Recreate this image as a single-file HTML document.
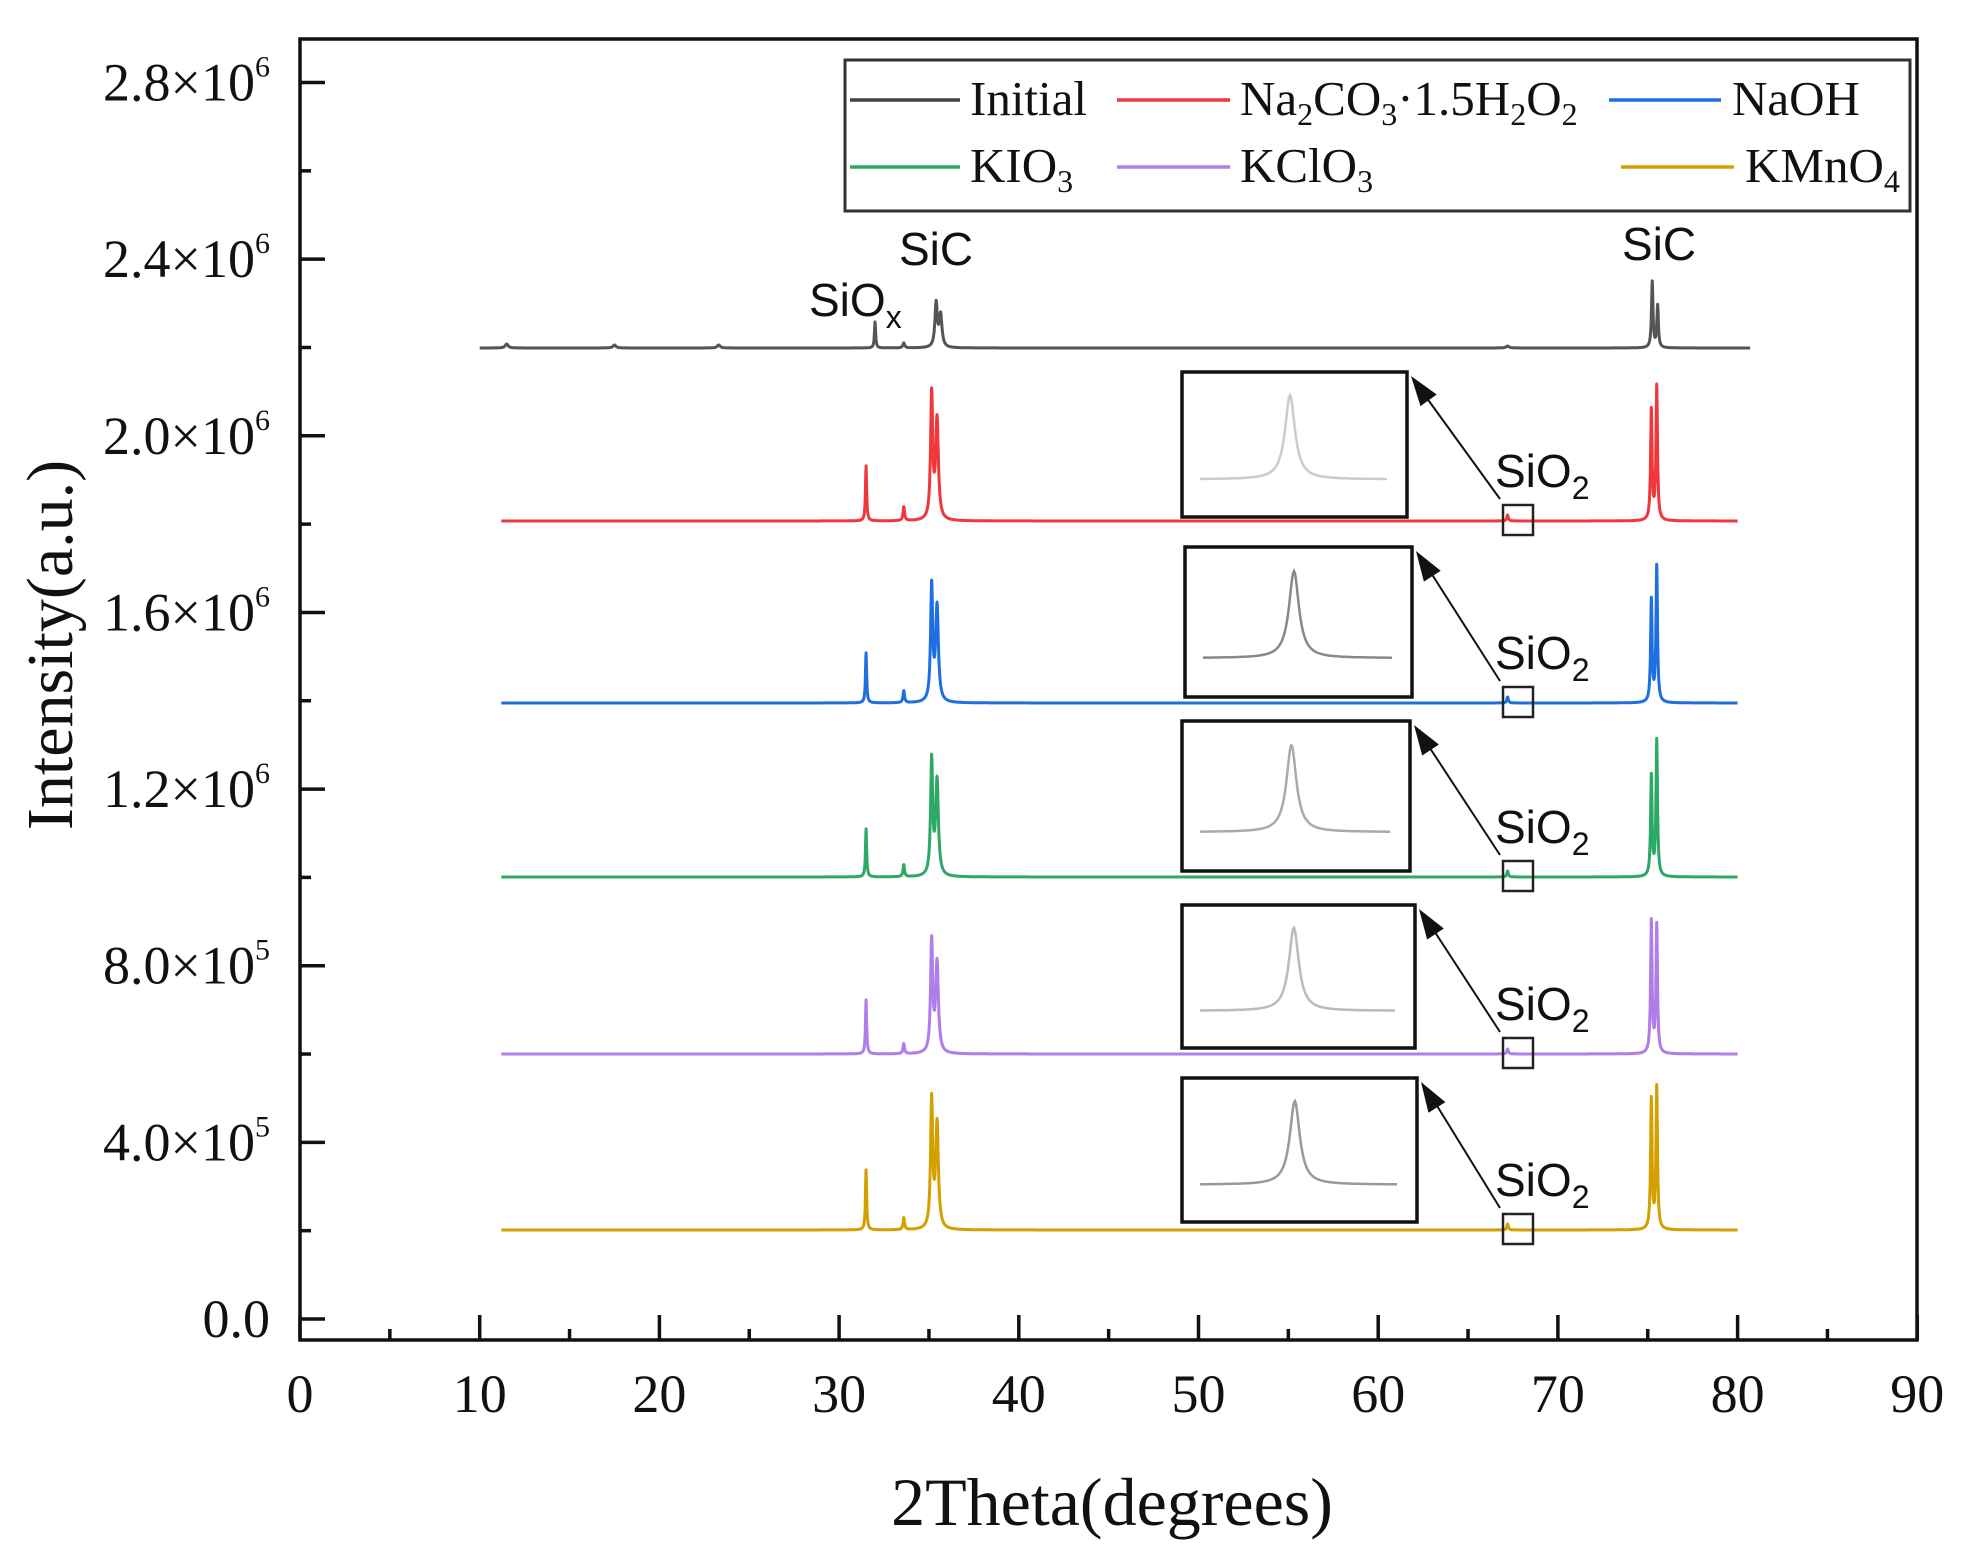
<!DOCTYPE html>
<html><head><meta charset="utf-8"><style>
html,body{margin:0;padding:0;background:#fff;}
svg{display:block;}
.t{font-family:"Liberation Serif",serif;fill:#111;}
.s{font-family:"Liberation Sans",sans-serif;fill:#111;}
</style></head><body>
<svg id="c" width="1972" height="1560" viewBox="0 0 1972 1560" xmlns="http://www.w3.org/2000/svg">
<rect width="1972" height="1560" fill="#fff"/>
<g id="series" fill="none" stroke-width="3" stroke-linejoin="round"></g>
<g id="ins"></g>
<rect x="300" y="39" width="1617" height="1301" fill="none" stroke="#111" stroke-width="3.5"/>
<g id="ticks" stroke="#111" stroke-width="3.5"></g>
<g id="lbl"></g>
<rect x="845" y="60" width="1065" height="151" fill="#fff" stroke="#333" stroke-width="3"/>
<g stroke-width="3.5">
<line x1="850" y1="100" x2="960" y2="100" stroke="#444"/>
<line x1="1117" y1="100" x2="1230" y2="100" stroke="#f0383c"/>
<line x1="1609" y1="100" x2="1721" y2="100" stroke="#1f6fe0"/>
<line x1="850" y1="167" x2="960" y2="167" stroke="#2ea866"/>
<line x1="1117" y1="167" x2="1230" y2="167" stroke="#b07ee8"/>
<line x1="1621" y1="167" x2="1734" y2="167" stroke="#d4a000"/>
</g>
<g class="t" font-size="49">
<text x="970" y="115">Initial</text>
<text x="1240" y="115">Na<tspan font-size="32" dy="10">2</tspan><tspan dy="-10">CO</tspan><tspan font-size="32" dy="10">3</tspan><tspan dy="-10">·1.5H</tspan><tspan font-size="32" dy="10">2</tspan><tspan dy="-10">O</tspan><tspan font-size="32" dy="10">2</tspan></text>
<text x="1732" y="115">NaOH</text>
<text x="970" y="182">KIO<tspan font-size="32" dy="10">3</tspan></text>
<text x="1240" y="182">KClO<tspan font-size="32" dy="10">3</tspan></text>
<text x="1745" y="182">KMnO<tspan font-size="32" dy="10">4</tspan></text>
</g>
<g class="s" font-size="46">
<text x="899" y="265">SiC</text>
<text x="1622" y="260">SiC</text>
<text x="809" y="316">SiO<tspan font-size="32" dy="12">x</tspan></text>
</g>
<text class="t" font-size="66" transform="translate(72,645) rotate(-90)" text-anchor="middle">Intensity(a.u.)</text>
<text class="t" font-size="68" x="1112" y="1525" text-anchor="middle">2Theta(degrees)</text>
</svg>
<script>
const NS="http://www.w3.org/2000/svg";
function el(t,a,p){const e=document.createElementNS(NS,t);for(const k in a)e.setAttribute(k,a[k]);p.appendChild(e);return e;}
const X=t=>300+t*17.97, Y=v=>1319-v*441.6;
const tk=document.getElementById('ticks'), lb=document.getElementById('lbl');
for(let t=0;t<=90;t+=5){const maj=t%10==0;el('line',{x1:X(t),y1:1340,x2:X(t),y2:1340-(maj?25:11)},tk);
 if(maj){const tx=el('text',{x:X(t),y:1412,'text-anchor':'middle','font-size':54,class:'t'},lb);tx.textContent=t;}}
for(let i=0;i<=14;i++){const v=i*0.2;const maj=i%2==0;el('line',{x1:300,y1:Y(v),x2:300+(maj?25:11),y2:Y(v)},tk);
 if(maj){const tx=el('text',{x:270,y:Y(v)+18,'text-anchor':'end','font-size':54,class:'t'},lb);
  if(i==0){tx.textContent='0.0';}else{const m=v>=1?(v).toFixed(1):(v*10).toFixed(1);const e=v>=1?6:5;
   tx.textContent=m+'×10';const ts=el('tspan',{'font-size':30,dy:-24},tx);ts.textContent=e;}}}
const S=[
 {c:'#555',b:348,t0:10,t1:80.7,p:[[11.5,4,.1],[17.5,3,.1],[23.3,3,.1],[32.0,26,.04],[33.6,5,.06],[35.4,44,.08],[35.65,32,.09],[75.25,66,.05],[75.55,42,.05],[67.2,2,.1]]},
 {c:'#f0383c',b:521,t0:11.2,t1:80,p:[[31.5,55,.04],[33.6,14,.05],[35.15,125,.07],[35.45,100,.09],[75.2,110,.05],[75.5,134,.05],[67.2,6,.05]]},
 {c:'#1f6fe0',b:703,t0:11.2,t1:80,p:[[31.5,50,.04],[33.6,12,.05],[35.15,115,.07],[35.45,95,.09],[75.2,102,.05],[75.5,136,.05],[67.2,6,.05]]},
 {c:'#2ea866',b:877,t0:11.2,t1:80,p:[[31.5,48,.04],[33.6,12,.05],[35.15,115,.07],[35.45,95,.09],[75.2,100,.05],[75.5,136,.05],[67.2,6,.05]]},
 {c:'#b07ee8',b:1054,t0:11.2,t1:80,p:[[31.5,54,.04],[33.6,10,.05],[35.15,111,.07],[35.45,90,.09],[75.2,132,.05],[75.5,128,.05],[67.2,5,.05]]},
 {c:'#d4a000',b:1230,t0:11.2,t1:80,p:[[31.5,60,.04],[33.6,12,.05],[35.15,128,.07],[35.45,105,.09],[75.2,130,.05],[75.5,142,.05],[67.2,6,.05]]}
];
const g=document.getElementById('series');
for(const s of S){let d='';for(let t=s.t0;t<=s.t1+1e-9;t+=0.01){let h=0;for(const[c,a,w]of s.p){const dx=t-c;h+=a*w*w/(dx*dx+w*w);}
 d+=(d?'L':'M')+X(t).toFixed(1)+' '+(s.b-h).toFixed(1);}
 el('path',{d:d,stroke:s.c},g);}
const ins=document.getElementById('ins');
const B=[[1182,372,1407,517,'#ccc',521],[1185,547,1412,697,'#888',703],[1182,721,1410,871,'#aaa',877],[1182,905,1415,1048,'#bbb',1054],[1182,1078,1417,1222,'#999',1230]];
for(const[x0,y0,x1,y1,col,base] of B){
 el('rect',{x:x0,y:y0,width:x1-x0,height:y1-y0,fill:'#fff',stroke:'#111','stroke-width':3.5},ins);
 const h=y1-y0,w=x1-x0,cx=x0+w*0.48,bl=y0+h*0.74,pk=h*0.58;let d='';
 for(let x=x0+18;x<=x1-20;x+=1){const dx=(x-cx)/6;const v=bl-pk/(1+dx*dx);d+=(d?'L':'M')+x+' '+v.toFixed(1);}
 el('path',{d:d,fill:'none',stroke:col,'stroke-width':2.5},ins);
 const bx=1503,by=base-16;el('rect',{x:bx,y:by,width:30,height:30,fill:'none',stroke:'#222','stroke-width':2.5},ins);
 const ax=x1+4,ay=y0+4,ex=bx-3,ey=by-6;
 el('line',{x1:ex,y1:ey,x2:ax+10,y2:ay+14,stroke:'#111','stroke-width':2},ins);
 const ang=Math.atan2(ey-ay,ex-ax),L=30,W=10;const p1=[ax+L*Math.cos(ang)-W*Math.sin(ang),ay+L*Math.sin(ang)+W*Math.cos(ang)],p2=[ax+L*Math.cos(ang)+W*Math.sin(ang),ay+L*Math.sin(ang)-W*Math.cos(ang)];
 el('polygon',{points:`${ax},${ay} ${p1} ${p2}`,fill:'#111'},ins);
 const tx=el('text',{x:1495,y:by-18,'font-size':46,class:'s'},ins);tx.textContent='SiO';const ts=el('tspan',{'font-size':32,dy:12},tx);ts.textContent='2';
}
</script>
</body></html>
